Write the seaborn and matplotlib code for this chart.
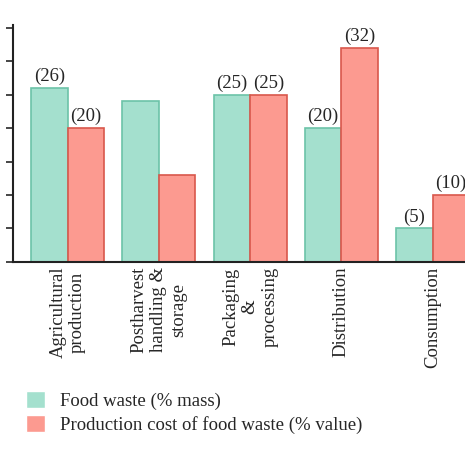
import matplotlib
matplotlib.use("Agg")
import matplotlib.pyplot as plt
import seaborn as sns
import pandas as pd

categories = ["Agricultural\nproduction", "Postharvest\nhandling &\nstorage", "Packaging\n&\nprocessing", "Distribution", "Consumption"]
food_waste = [26, 24, 25, 20, 5]
prod_cost = [20, 13, 25, 32, 10]
labels_fw = ["(26)", "", "(25)", "(20)", "(5)"]
labels_pc = ["(20)", "", "(25)", "(32)", "(10)"]
s1 = "Food waste (% mass)"
s2 = "Production cost of food waste (% value)"

df = pd.DataFrame({
    "cat": categories * 2,
    "val": food_waste + prod_cost,
    "series": [s1] * 5 + [s2] * 5,
})

sns.set_style("ticks")
plt.rcParams["font.family"] = ["Liberation Serif", "DejaVu Serif"]
fig = plt.figure(figsize=(4.65, 4.65), dpi=100)
ax = fig.add_axes([0.028, 0.437, 1.02, 0.51])
sns.barplot(data=df, x="cat", y="val", hue="series", palette=["#a4e0ce", "#fc9a90"],
            saturation=1, width=0.8, ax=ax, legend=True)
edges = ["#6cc3a8", "#d9574c"]
for i, cont in enumerate(ax.containers):
    for p in cont:
        p.set_edgecolor(edges[i]); p.set_linewidth(1.2)
    ax.bar_label(cont, labels=[labels_fw, labels_pc][i], padding=2, fontsize=13.5)
ax.set_xlim(-0.6, 4.6)
ax.set_ylim(0, 35.5)
ax.set_yticks(range(0, 36, 5))
ax.set_yticklabels([])
ax.set_xlabel(""); ax.set_ylabel("")
ax.tick_params(axis="x", labelrotation=90, labelsize=13.5, length=0)
ax.tick_params(axis="y", length=5, width=1.2, direction="out")
sns.despine(ax=ax, right=True, top=True)
for s in ["left", "bottom"]:
    ax.spines[s].set_linewidth(1.5); ax.spines[s].set_color("#222222")
h, l = ax.get_legend_handles_labels()
ax.get_legend().remove()
fig.legend(h, l, loc="lower left", bbox_to_anchor=(0.02, 0.03), frameon=False,
           fontsize=13.5, handlelength=1.0, handleheight=1.0, labelspacing=0.3)
fig.savefig("out.png", dpi=100)
